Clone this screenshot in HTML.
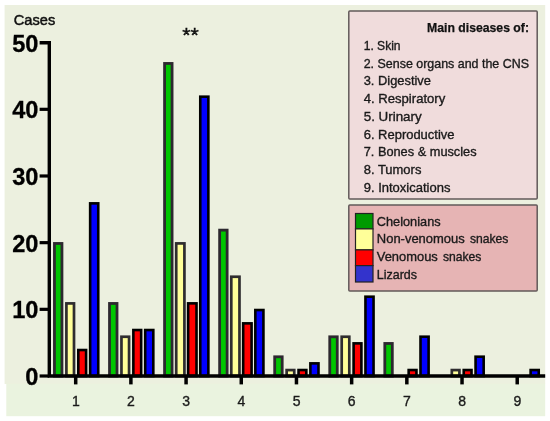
<!DOCTYPE html>
<html><head><meta charset="utf-8"><title>Cases chart</title>
<style>html,body{margin:0;padding:0;background:#fff}body{width:550px;height:421px;overflow:hidden}svg{display:block}text{font-family:"Liberation Sans",sans-serif;fill:#111}.yl{font-weight:bold;font-size:23.6px;text-anchor:end;fill:#000;stroke:#000;stroke-width:0.3px}.xl{font-size:14px;text-anchor:middle;fill:#1a1a1a;stroke:#1a1a1a;stroke-width:0.35px}.lg{font-size:12.7px;fill:#1a1a1a;stroke:#1a1a1a;stroke-width:0.35px}</style></head><body>
<svg width="550" height="421" viewBox="0 0 550 421">
<rect x="0" y="0" width="550" height="421" fill="#fff"/>
<rect x="4.6" y="5" width="540.6" height="379" fill="#ecf0df"/>
<rect x="6.3" y="383.7" width="538.9" height="32.5" fill="#eaf3df"/>
<rect x="54.45" y="243.46" width="7.50" height="132.54" fill="#00c600" stroke="#2d282f" stroke-width="2.8"/>
<rect x="66.40" y="303.41" width="7.60" height="72.59" fill="#ffff99" stroke="#2f2d2f" stroke-width="2.7"/>
<rect x="78.30" y="350.03" width="7.80" height="25.97" fill="#ff0000" stroke="#000" stroke-width="2.6"/>
<rect x="90.15" y="203.36" width="8.10" height="172.64" fill="#0000ff" stroke="#000" stroke-width="2.6"/>
<rect x="109.51" y="303.46" width="7.50" height="72.54" fill="#00c600" stroke="#2d282f" stroke-width="2.8"/>
<rect x="121.46" y="336.75" width="7.60" height="39.25" fill="#ffff99" stroke="#2f2d2f" stroke-width="2.7"/>
<rect x="133.36" y="330.03" width="7.80" height="45.97" fill="#ff0000" stroke="#000" stroke-width="2.6"/>
<rect x="145.21" y="330.03" width="8.10" height="45.97" fill="#0000ff" stroke="#000" stroke-width="2.6"/>
<rect x="164.57" y="63.45" width="7.50" height="312.55" fill="#00c600" stroke="#2d282f" stroke-width="2.8"/>
<rect x="176.22" y="243.41" width="8.20" height="132.59" fill="#ffff99" stroke="#2f2d2f" stroke-width="2.7"/>
<rect x="188.12" y="303.36" width="8.40" height="72.64" fill="#ff0000" stroke="#000" stroke-width="2.6"/>
<rect x="200.27" y="96.69" width="8.10" height="279.31" fill="#0000ff" stroke="#000" stroke-width="2.6"/>
<rect x="219.63" y="230.13" width="7.50" height="145.87" fill="#00c600" stroke="#2d282f" stroke-width="2.8"/>
<rect x="231.28" y="276.75" width="8.20" height="99.25" fill="#ffff99" stroke="#2f2d2f" stroke-width="2.7"/>
<rect x="243.18" y="323.36" width="8.40" height="52.64" fill="#ff0000" stroke="#000" stroke-width="2.6"/>
<rect x="255.33" y="310.03" width="8.10" height="65.97" fill="#0000ff" stroke="#000" stroke-width="2.6"/>
<rect x="274.69" y="356.80" width="7.50" height="19.20" fill="#00c600" stroke="#2d282f" stroke-width="2.8"/>
<rect x="286.64" y="370.08" width="7.60" height="5.92" fill="#ffff99" stroke="#2f2d2f" stroke-width="2.7"/>
<rect x="298.54" y="370.03" width="7.80" height="5.97" fill="#ff0000" stroke="#000" stroke-width="2.6"/>
<rect x="310.39" y="363.37" width="8.10" height="12.63" fill="#0000ff" stroke="#000" stroke-width="2.6"/>
<rect x="329.75" y="336.80" width="7.50" height="39.20" fill="#00c600" stroke="#2d282f" stroke-width="2.8"/>
<rect x="341.70" y="336.75" width="7.60" height="39.25" fill="#ffff99" stroke="#2f2d2f" stroke-width="2.7"/>
<rect x="353.60" y="343.37" width="7.80" height="32.63" fill="#ff0000" stroke="#000" stroke-width="2.6"/>
<rect x="365.45" y="296.70" width="8.10" height="79.30" fill="#0000ff" stroke="#000" stroke-width="2.6"/>
<rect x="384.81" y="343.46" width="7.50" height="32.54" fill="#00c600" stroke="#2d282f" stroke-width="2.8"/>
<rect x="408.66" y="370.03" width="7.80" height="5.97" fill="#ff0000" stroke="#000" stroke-width="2.6"/>
<rect x="420.51" y="336.70" width="8.10" height="39.30" fill="#0000ff" stroke="#000" stroke-width="2.6"/>
<rect x="451.82" y="370.08" width="7.60" height="5.92" fill="#ffff99" stroke="#2f2d2f" stroke-width="2.7"/>
<rect x="463.72" y="370.03" width="7.80" height="5.97" fill="#ff0000" stroke="#000" stroke-width="2.6"/>
<rect x="475.57" y="356.70" width="8.10" height="19.30" fill="#0000ff" stroke="#000" stroke-width="2.6"/>
<rect x="530.63" y="370.03" width="8.10" height="5.97" fill="#0000ff" stroke="#000" stroke-width="2.6"/>
<path d="M39.6 42.7H49.3V376H545.2" fill="none" stroke="#000" stroke-width="3.4" stroke-linejoin="miter"/>
<path d="M39.6 376.00H49" stroke="#000" stroke-width="3.2"/>
<path d="M39.6 309.33H49" stroke="#000" stroke-width="3.2"/>
<path d="M39.6 242.66H49" stroke="#000" stroke-width="3.2"/>
<path d="M39.6 175.99H49" stroke="#000" stroke-width="3.2"/>
<path d="M39.6 109.32H49" stroke="#000" stroke-width="3.2"/>
<path d="M75.70 376V384.4" stroke="#000" stroke-width="3.5"/>
<path d="M130.89 376V384.4" stroke="#000" stroke-width="3.5"/>
<path d="M186.08 376V384.4" stroke="#000" stroke-width="3.5"/>
<path d="M241.27 376V384.4" stroke="#000" stroke-width="3.5"/>
<path d="M296.46 376V384.4" stroke="#000" stroke-width="3.5"/>
<path d="M351.65 376V384.4" stroke="#000" stroke-width="3.5"/>
<path d="M406.84 376V384.4" stroke="#000" stroke-width="3.5"/>
<path d="M462.03 376V384.4" stroke="#000" stroke-width="3.5"/>
<path d="M517.22 376V384.4" stroke="#000" stroke-width="3.5"/>
<text class="yl" x="38.4" y="385.00">0</text>
<text class="yl" x="38.4" y="318.33">10</text>
<text class="yl" x="38.4" y="251.66">20</text>
<text class="yl" x="38.4" y="184.99">30</text>
<text class="yl" x="38.4" y="118.32">40</text>
<text class="yl" x="38.4" y="51.65">50</text>
<text class="xl" x="75.80" y="405.8">1</text>
<text class="xl" x="130.99" y="405.8">2</text>
<text class="xl" x="186.18" y="405.8">3</text>
<text class="xl" x="241.37" y="405.8">4</text>
<text class="xl" x="296.56" y="405.8">5</text>
<text class="xl" x="351.75" y="405.8">6</text>
<text class="xl" x="406.94" y="405.8">7</text>
<text class="xl" x="462.13" y="405.8">8</text>
<text class="xl" x="517.32" y="405.8">9</text>
<text x="13.8" y="24.5" font-size="15.3" textLength="41.4" lengthAdjust="spacingAndGlyphs" fill="#111" stroke="#111" stroke-width="0.5">Cases</text>
<text x="182.2" y="41.7" font-size="20" textLength="16.6" lengthAdjust="spacingAndGlyphs" fill="#000" stroke="#000" stroke-width="0.35">**</text>
<rect x="348.8" y="11" width="188.4" height="188.1" rx="1" fill="#f0dcdc" stroke="#625a5a" stroke-width="1.5"/>
<text x="427" y="32.2" font-size="12.7" font-weight="bold" textLength="102" lengthAdjust="spacingAndGlyphs" fill="#111" stroke="#111" stroke-width="0.25">Main diseases of:</text>
<text class="lg" x="363.7" y="49.80" textLength="36.9" lengthAdjust="spacingAndGlyphs">1. Skin</text>
<text class="lg" x="363.7" y="67.56" textLength="165.3" lengthAdjust="spacingAndGlyphs">2. Sense organs and the CNS</text>
<text class="lg" x="363.7" y="85.32" textLength="67.3" lengthAdjust="spacingAndGlyphs">3. Digestive</text>
<text class="lg" x="363.7" y="103.08" textLength="81.6" lengthAdjust="spacingAndGlyphs">4. Respiratory</text>
<text class="lg" x="363.7" y="120.84" textLength="58.0" lengthAdjust="spacingAndGlyphs">5. Urinary</text>
<text class="lg" x="363.7" y="138.60" textLength="90.8" lengthAdjust="spacingAndGlyphs">6. Reproductive</text>
<text class="lg" x="363.7" y="156.36" textLength="112.9" lengthAdjust="spacingAndGlyphs">7. Bones &amp; muscles</text>
<text class="lg" x="363.7" y="174.12" textLength="57.7" lengthAdjust="spacingAndGlyphs">8. Tumors</text>
<text class="lg" x="363.7" y="191.88" textLength="86.8" lengthAdjust="spacingAndGlyphs">9. Intoxications</text>
<rect x="348.8" y="205.0" width="188.4" height="85.9" rx="1" fill="#e6b4b4" stroke="#625a5a" stroke-width="1.5"/>
<rect x="355.5" y="213.5" width="17.5" height="15.4" fill="#009a00" stroke="#222" stroke-width="1.2"/>
<rect x="355.5" y="228.9" width="17.5" height="21.0" fill="#ffff99" stroke="#222" stroke-width="1.2"/>
<rect x="355.5" y="249.9" width="17.5" height="15.7" fill="#ff0000" stroke="#222" stroke-width="1.2"/>
<rect x="355.5" y="265.6" width="17.5" height="16.4" fill="#3333cc" stroke="#222" stroke-width="1.2"/>
<text class="lg" x="376.8" y="225.5" textLength="63.8" lengthAdjust="spacingAndGlyphs">Chelonians</text>
<text class="lg" x="376.8" y="243.3" textLength="88.0" lengthAdjust="spacingAndGlyphs">Non-venomous</text>
<text class="lg" x="470.0" y="243.3" textLength="38.4" lengthAdjust="spacingAndGlyphs">snakes</text>
<text class="lg" x="376.8" y="261" textLength="61.0" lengthAdjust="spacingAndGlyphs">Venomous</text>
<text class="lg" x="443.0" y="261" textLength="38.4" lengthAdjust="spacingAndGlyphs">snakes</text>
<text class="lg" x="376.8" y="278.5" textLength="40.2" lengthAdjust="spacingAndGlyphs">Lizards</text>
</svg></body></html>
